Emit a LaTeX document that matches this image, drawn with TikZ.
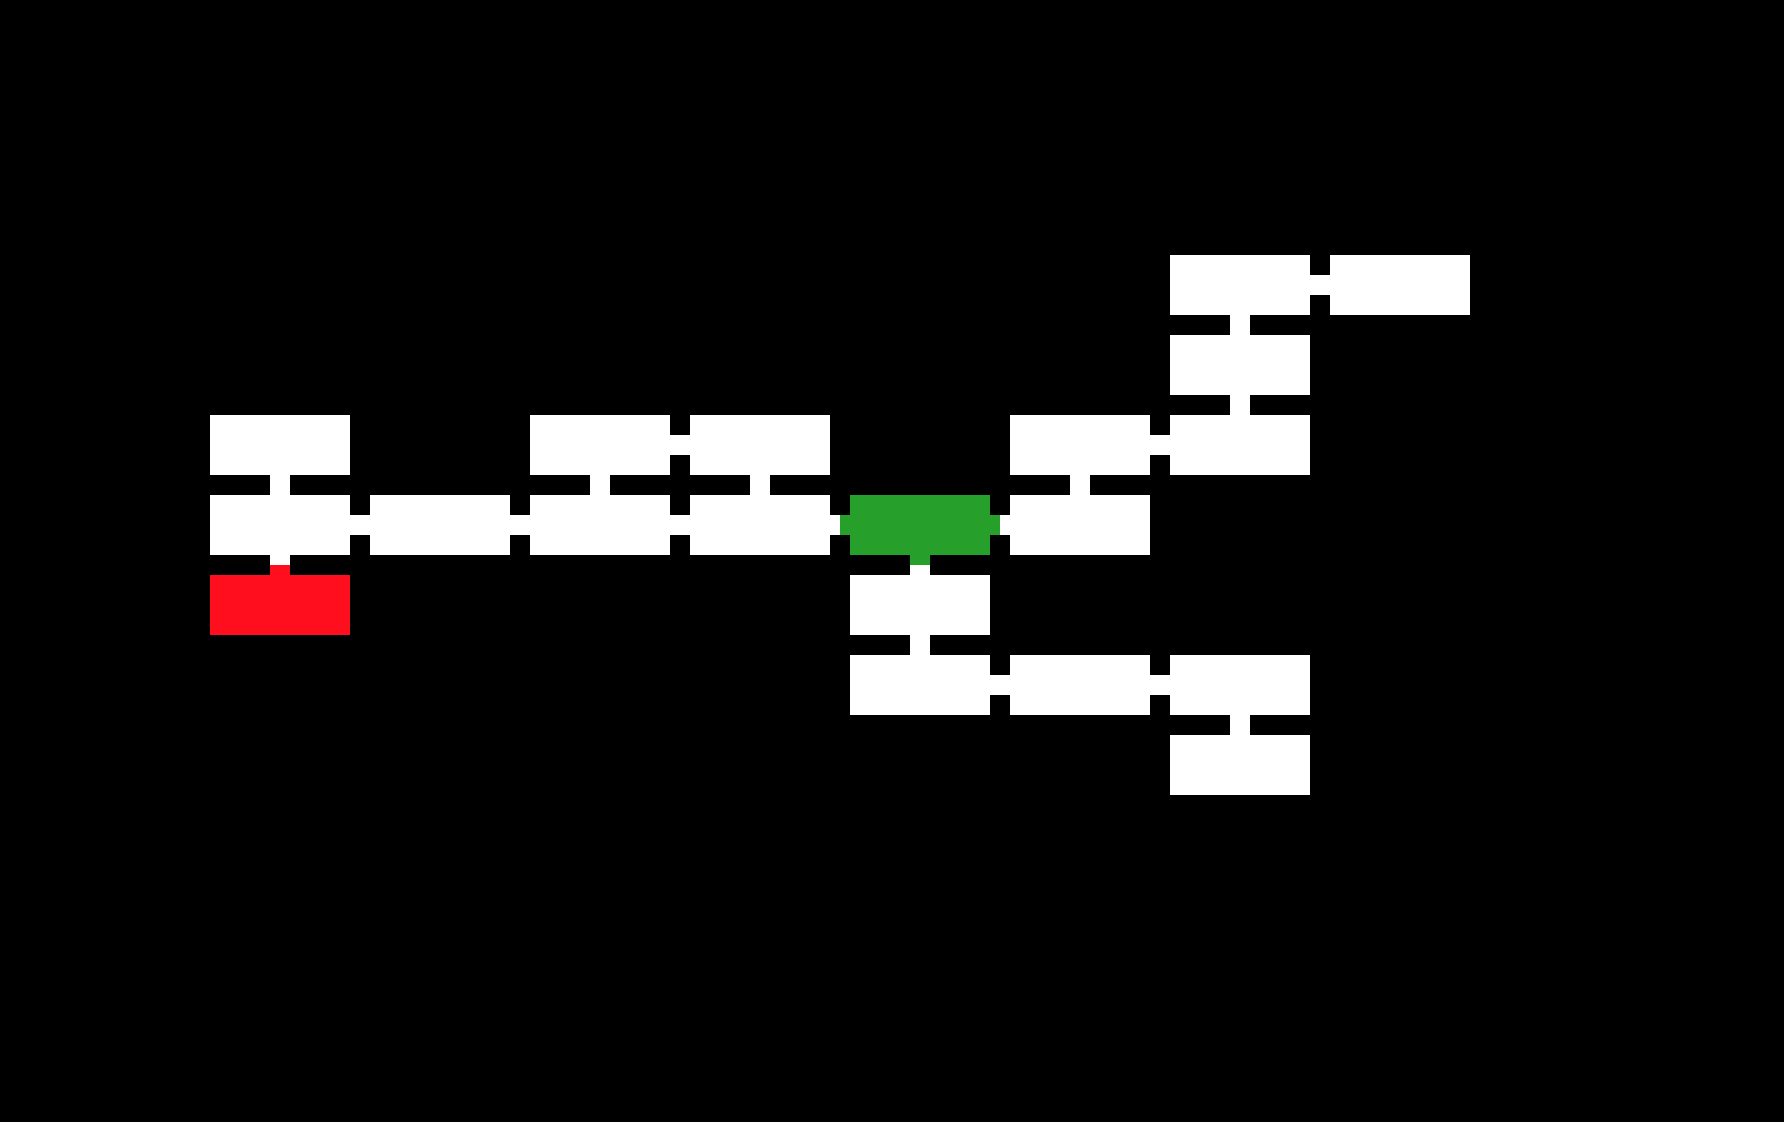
\documentclass[tikz,border=0pt]{standalone}
\usetikzlibrary{calc}
\definecolor{startgreen}{RGB}{38,160,43}
\definecolor{goalred}{RGB}{255,15,30}
\tikzset{
  room/.style={rectangle, inner sep=0pt, minimum width=1.4cm, minimum height=0.6cm, fill=#1, draw=none},
  room/.default=white
}
\newcommand\mkvdoor[4]{% upper room, lower room, upper colour, lower colour
  \coordinate (m) at ($(#1.south)!0.5!(#2.north)$);
  \fill[#3] ($(#1.south)+(-0.1,0.05)$) rectangle ($(#2.north)+(0.1,-0.05)$);
  \fill[#4] ($(m)+(-0.1,0)$) rectangle ($(#2.north)+(0.1,-0.05)$);
}
\newcommand\mkhdoor[4]{% left room, right room, left colour, right colour
  \coordinate (m) at ($(#1.east)!0.5!(#2.west)$);
  \fill[#3] ($(#1.east)+(-0.05,-0.1)$) rectangle ($(#2.west)+(0.05,0.1)$);
  \fill[#4] ($(m)+(0,-0.1)$) rectangle ($(#2.west)+(0.05,0.1)$);
}
\begin{document}
\begin{tikzpicture}
\fill[black] (0,0) rectangle (17.84,11.22);
\useasboundingbox (0,0) rectangle (17.84,11.22);
% rooms: column i, row j
\foreach \i/\j in {6/0,7/0,6/1,0/2,2/2,3/2,5/2,6/2,0/3,1/3,2/3,3/3,5/3,4/4,4/5,5/5,6/5,6/6}
  \node[room] (r\i\j) at ({2.8+1.6*\i},{8.37-0.8*\j}) {};
\node[room=startgreen] (r43) at ({2.8+1.6*4},{8.37-0.8*3}) {};
\node[room=goalred] (r04) at ({2.8+1.6*0},{8.37-0.8*4}) {};
% doors
\mkvdoor{r02}{r03}{white}{white}
\mkvdoor{r03}{r04}{white}{goalred}
\mkhdoor{r03}{r13}{white}{white}
\mkhdoor{r13}{r23}{white}{white}
\mkvdoor{r22}{r23}{white}{white}
\mkhdoor{r22}{r32}{white}{white}
\mkvdoor{r32}{r33}{white}{white}
\mkhdoor{r23}{r33}{white}{white}
\mkhdoor{r33}{r43}{white}{startgreen}
\mkhdoor{r43}{r53}{startgreen}{white}
\mkvdoor{r43}{r44}{startgreen}{white}
\mkvdoor{r52}{r53}{white}{white}
\mkhdoor{r52}{r62}{white}{white}
\mkvdoor{r61}{r62}{white}{white}
\mkvdoor{r60}{r61}{white}{white}
\mkhdoor{r60}{r70}{white}{white}
\mkvdoor{r44}{r45}{white}{white}
\mkhdoor{r45}{r55}{white}{white}
\mkhdoor{r55}{r65}{white}{white}
\mkvdoor{r65}{r66}{white}{white}
\end{tikzpicture}
\end{document}
